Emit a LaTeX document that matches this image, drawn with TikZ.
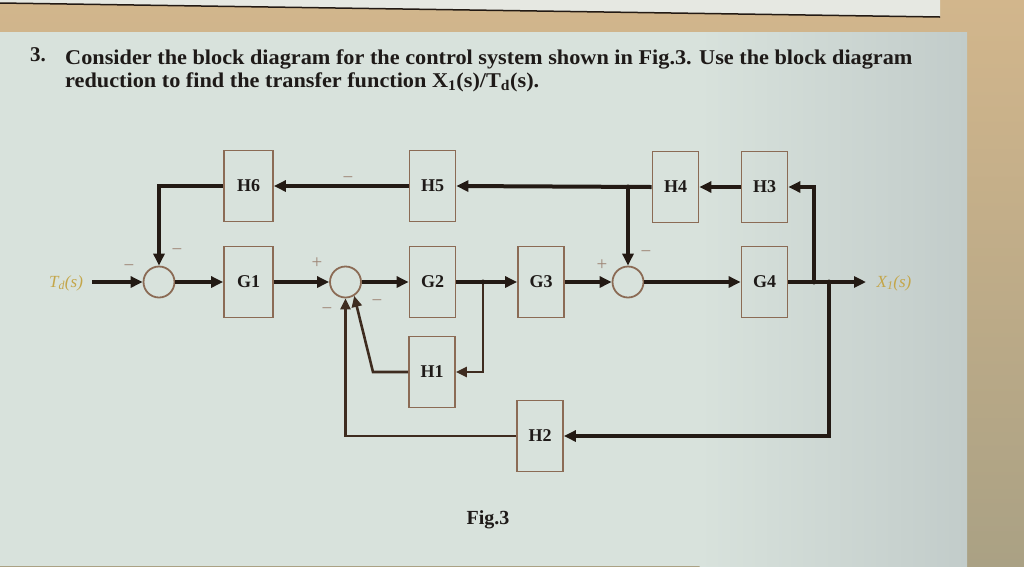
\documentclass[tikz,border=0pt]{standalone}
\usepackage{fontspec}
\setmainfont{Liberation Serif}
\usetikzlibrary{arrows.meta}
\definecolor{paper}{HTML}{D8E2DC}
\definecolor{paperdk}{HTML}{C2CCCA}
\definecolor{tantop}{HTML}{D2B68C}
\definecolor{tanbot}{HTML}{AAA184}
\definecolor{sheet}{HTML}{E6E8E2}
\definecolor{linec}{HTML}{231A14}
\definecolor{thinc}{HTML}{3E2C20}
\definecolor{boxc}{HTML}{8B6B55}
\definecolor{sigc}{HTML}{9E8575}
\definecolor{labc}{HTML}{C4A64A}
\definecolor{textc}{HTML}{1E1A18}
\tikzset{
  blk/.style={draw=boxc, line width=1.8pt, minimum width=46pt, minimum height=71pt,
    inner sep=0pt, text=textc, font=\bfseries\fontsize{18}{18}\selectfont},
  sumc/.style={circle, draw=boxc, line width=1.8pt, minimum size=31pt, inner sep=0pt},
  sig/.style={draw=linec, line width=4pt, -{Triangle[length=12pt,width=11pt]}},
  sigthin/.style={draw=thinc, line width=2.6pt, -{Triangle[length=11pt,width=10pt]}},
  sgn/.style={text=sigc, font=\fontsize{19}{19}\selectfont, inner sep=0pt},
  lab/.style={text=labc, font=\itshape\fontsize{17}{17}\selectfont, inner sep=0pt},
  dot/.style={circle, fill=linec, inner sep=0pt, minimum size=5pt},
  ttl/.style={text=textc, font=\bfseries\fontsize{21}{21}\selectfont, inner sep=0pt, anchor=base west}
}
\begin{document}
\begin{tikzpicture}[x=1pt,y=-1pt]
\useasboundingbox (0,0) rectangle (1024,566);
% background (photo of a page)
\shade[top color=tantop, bottom color=tanbot] (0,0) rectangle (1024,566);
\fill[paper] (0,32) rectangle (700,566);
\shade[left color=paper, right color=paperdk] (699.5,32) rectangle (967,566);
\fill[sheet] (0,0) -- (940,0) -- (940,17) -- (0,3) -- cycle;
\draw[linec, line width=1.5pt] (0,3) -- (940,17);

% title
\node[ttl] (num) at (30,61) {3.};
\node[ttl, xscale=1.06] (t1) at (65,64) {Consider the block diagram for the control system shown in Fig.3. Use the block diagram};
\node[ttl, xscale=1.06] (t2) at (65,87) {reduction to find the transfer function X\textsubscript{1}(s)/T\textsubscript{d}(s).};

% blocks
\node[blk, minimum width=49pt] (H6) at (248.5,186) {H6};
\node[blk, minimum width=49pt] (G1) at (248.5,282) {G1};
\node[blk] (H5) at (432.5,186) {H5};
\node[blk] (G2) at (432.5,282) {G2};
\node[blk] (G3) at (541,282) {G3};
\node[blk] (H1) at (432,372) {H1};
\node[blk] (H2) at (540,436) {H2};
\node[blk] (H4) at (675.5,187) {H4};
\node[blk] (H3) at (764.5,187) {H3};
\node[blk] (G4) at (764.5,282) {G4};

% summing junctions
\node[sumc] (s1) at (159,282) {};
\node[sumc] (s2) at (345.5,282) {};
\node[sumc] (s3) at (628,282) {};

% input / output
\node[lab] (Td) at (66,283) {T\textsubscript{d}(s)};
\node[lab] (X1) at (894,283) {X\textsubscript{1}(s)};
\coordinate (in) at (92,282);
\coordinate (out) at (866,282);

% branch points
\coordinate (b1) at (483,282);
\coordinate (b2) at (829,282);
\coordinate (b3) at (814,282);
\coordinate (b4) at (628,187);
\coordinate (h1c) at (373,372);

% forward path
\draw[sig] (in) -- (s1.west);
\draw[sig] (s1.east) -- (G1.west);
\draw[sig] (G1.east) -- (s2.west);
\draw[sig] (s2.east) -- (G2.west);
\draw[sig] (G2.east) -- (G3.west);
\draw[sig] (G3.east) -- (s3.west);
\draw[sig] (s3.east) -- (G4.west);
\draw[sig] (G4.east) -- (out);

% H1 loop
\draw[sigthin] (b1) |- (H1.east);
\draw[sigthin] (H1.west) -- (h1c) -- (s2.-58);

% H2 loop
\draw[sig] (b2) |- (H2.east);
\draw[sigthin] (H2.west) -| (s2.south);

% H3, H4, H5, H6 chain
\draw[sig] (b3) |- (H3.east);
\draw[sig] (H3.west) -- (H4.east);
\draw[sig] (H4.west) -- (H5.east);
\draw[sig] (b4) -- (s3.north);
\draw[sig] (H5.west) -- (H6.east);
\draw[sig] (H6.west) -| (s1.north);

\node[dot] (d1) at (b1) {};
\node[dot] (d2) at (b2) {};
\node[dot] (d3) at (b3) {};
\node[dot] (d4) at (b4) {};

% signs
\node[sgn] (m1) at (129,268) {−};
\node[sgn] (m2) at (177,252) {−};
\node[sgn] (p2) at (317,263) {+};
\node[sgn] (m3) at (327,311) {−};
\node[sgn] (m4) at (377,303) {−};
\node[sgn] (m5) at (348,180) {−};
\node[sgn] (p3) at (602,265) {+};
\node[sgn] (m6) at (646,254) {−};

% caption
\node[text=textc, font=\bfseries\fontsize{20}{20}\selectfont, inner sep=0pt] (fig) at (488,520) {Fig.3};
\end{tikzpicture}
\end{document}
